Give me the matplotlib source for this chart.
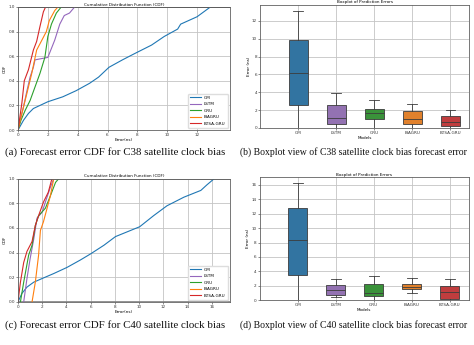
import matplotlib
matplotlib.use("Agg")
import matplotlib.pyplot as plt
import seaborn as sns

# ---------------- data ----------------
models = ["GM", "LSTM", "GRU", "BiAGRU", "BTSA-GRU"]
colors = ["#1f77b4", "#9467bd", "#2ca02c", "#ff7f0e", "#d62728"]

# C38 CDF curves (error ns, cumulative probability)
c38_gm_x = [0, 0.37, 0.7, 1.03, 1.47, 2.0, 3.0, 3.9, 4.8, 5.4, 6.1, 7.0, 7.8, 8.95, 9.8, 10.7, 10.9, 12.0, 12.9]
c38_gm_y = [0, 0.08, 0.135, 0.175, 0.2, 0.23, 0.27, 0.32, 0.38, 0.43, 0.51, 0.57, 0.62, 0.69, 0.76, 0.82, 0.86, 0.92, 1.0]
c38_lstm_x = [0, 0.15, 0.37, 0.6, 0.81, 1.03, 1.14, 2.0, 2.46, 2.8, 3.1, 3.45, 3.8]
c38_lstm_y = [0, 0.08, 0.19, 0.32, 0.43, 0.51, 0.57, 0.59, 0.73, 0.86, 0.93, 0.95, 1.0]
c38_gru_x = [0, 0.2, 0.48, 0.81, 1.14, 1.47, 1.8, 2.0, 2.24, 2.57, 2.9]
c38_gru_y = [0, 0.08, 0.16, 0.24, 0.35, 0.46, 0.59, 0.76, 0.86, 0.95, 1.0]
c38_biagru_x = [0, 0.26, 0.6, 0.92, 1.25, 1.47, 1.9, 2.1, 2.46, 2.68]
c38_biagru_y = [0, 0.135, 0.3, 0.46, 0.65, 0.7, 0.8, 0.89, 0.97, 1.0]
c38_btsa_x = [0, 0.26, 0.42, 0.7, 1.03, 1.25, 1.47, 1.7, 1.85]
c38_btsa_y = [0, 0.22, 0.4, 0.49, 0.65, 0.72, 0.84, 0.96, 1.0]

# C40 CDF curves
c40_gm_x = [0, 0.33, 0.74, 1.3, 2.0, 2.95, 4.05, 5.15, 6.0, 7.1, 8.05, 9.3, 10.05, 11.2, 12.3, 13.7, 15.1, 15.6, 16.2]
c40_gm_y = [0, 0.07, 0.12, 0.16, 0.19, 0.23, 0.28, 0.34, 0.39, 0.46, 0.53, 0.58, 0.61, 0.70, 0.78, 0.85, 0.905, 0.95, 1.0]
c40_lstm_x = [0.47, 0.74, 1.0, 1.3, 1.57, 2.0, 2.26, 2.67, 2.95]
c40_lstm_y = [0, 0.19, 0.35, 0.51, 0.68, 0.73, 0.81, 0.93, 1.0]
c40_gru_x = [0.2, 0.47, 0.88, 1.16, 1.43, 1.7, 2.26, 2.67, 3.1, 3.36]
c40_gru_y = [0, 0.16, 0.38, 0.46, 0.62, 0.70, 0.76, 0.86, 0.97, 1.0]
c40_biagru_x = [1.16, 1.43, 1.7, 1.85, 2.1, 2.4, 2.67, 2.95]
c40_biagru_y = [0, 0.16, 0.38, 0.58, 0.65, 0.76, 0.86, 1.0]
c40_btsa_x = [0, 0.2, 0.47, 0.74, 1.16, 1.43, 1.7, 2.1, 2.5, 2.8]
c40_btsa_y = [0, 0.16, 0.32, 0.41, 0.49, 0.62, 0.7, 0.81, 0.89, 1.0]

# Boxplot summary statistics (ns)
c38_q1 = [2.6, 0.4, 1.0, 0.4, 0.2]
c38_med = [6.2, 1.1, 1.7, 1.0, 0.7]
c38_q3 = [9.9, 2.6, 2.1, 1.9, 1.4]
c38_lo = [0.0, 0.0, 0.0, 0.0, 0.0]
c38_hi = [13.1, 3.9, 3.1, 2.7, 2.0]

c40_q1 = [3.5, 0.75, 0.6, 1.5, 0.2]
c40_med = [8.3, 1.45, 1.0, 1.8, 1.1]
c40_q3 = [12.8, 2.1, 2.2, 2.25, 1.9]
c40_lo = [0.0, 0.4, 0.0, 1.0, 0.0]
c40_hi = [16.25, 3.0, 3.4, 3.1, 3.0]

captions = [
    "(a) Forecast error CDF for C38 satellite clock bias",
    "(b) Boxplot view of C38 satellite clock bias forecast error",
    "(c) Forecast error CDF for C40 satellite clock bias",
    "(d) Boxplot view of C40 satellite clock bias forecast error",
]

# ---------------- style ----------------
plt.rcParams["font.family"] = ["DejaVu Sans"]
SMALL = 3.0
GRID = "#c4c4c4"
SPINE = "#606060"

fig = plt.figure(figsize=(4.74, 3.45), dpi=100)

def style_axes(ax):
    ax.set_facecolor("white")
    ax.grid(True, color=GRID, lw=0.6)
    ax.set_axisbelow(True)
    for s in ax.spines.values():
        s.set_color(SPINE)
        s.set_linewidth(0.6)
    ax.tick_params(labelsize=SMALL, length=1.2, width=0.4, pad=1, colors="#333333")

def cdf_panel(rect, curves, xmax, xticks, extra_lines):
    ax = fig.add_axes(rect)
    style_axes(ax)
    for (xs, ys), name, c in zip(curves, models, colors):
        ax.plot(xs, ys, color=c, lw=0.8, label=name)
    for yv, col in extra_lines:
        ax.axhline(yv, color=col, lw=1.3, zorder=1.5)
    ax.set_xlim(0, xmax)
    ax.set_ylim(0, 1)
    ax.set_xticks(xticks)
    ax.set_yticks([0, 0.2, 0.4, 0.6, 0.8, 1.0])
    ax.set_title("Cumulative Distribution Function (CDF)", fontsize=SMALL, pad=1.0)
    ax.set_xlabel("Error(ns)", fontsize=SMALL, labelpad=0.5)
    ax.set_ylabel("CDF", fontsize=SMALL, labelpad=1)
    ax.legend(loc="lower right", fontsize=SMALL, frameon=True, handlelength=2.5,
              borderpad=0.5, labelspacing=0.6, framealpha=1, edgecolor="#dddddd")
    return ax

def box_panel(rect, q1, med, q3, lo, hi, yticks, ymax):
    ax = fig.add_axes(rect)
    style_axes(ax)
    stats = [dict(med=m, q1=a, q3=b, whislo=l, whishi=h, label=n)
             for m, a, b, l, h, n in zip(med, q1, q3, lo, hi, models)]
    bp = ax.bxp(stats, positions=range(len(models)), widths=0.5, patch_artist=True,
                showfliers=False,
                boxprops=dict(edgecolor="#3c3c3c", linewidth=0.6),
                medianprops=dict(color="#3c3c3c", linewidth=0.6),
                whiskerprops=dict(color="#3c3c3c", linewidth=0.6),
                capprops=dict(color="#3c3c3c", linewidth=0.6))
    for patch, c in zip(bp["boxes"], colors):
        patch.set_facecolor(sns.desaturate(c, 0.75))
    ax.set_xlim(-1.0, 4.5)
    ax.set_ylim(0, ymax)
    ax.set_yticks(yticks)
    ax.set_title("Boxplot of Prediction Errors", fontsize=SMALL, pad=1.0)
    ax.set_xlabel("Models", fontsize=SMALL, labelpad=0.5)
    ax.set_ylabel("Error (ns)", fontsize=SMALL, labelpad=1)
    return ax

cdf_panel([0.038, 0.623, 0.447, 0.357],
          [(c38_gm_x, c38_gm_y), (c38_lstm_x, c38_lstm_y), (c38_gru_x, c38_gru_y),
           (c38_biagru_x, c38_biagru_y), (c38_btsa_x, c38_btsa_y)],
          14.2, [0, 2, 4, 6, 8, 10, 12], [(1.0, "#444444")])
box_panel([0.549, 0.629, 0.441, 0.357], c38_q1, c38_med, c38_q3, c38_lo, c38_hi,
          [0, 2, 4, 6, 8, 10, 12], 13.8)
cdf_panel([0.038, 0.125, 0.447, 0.357],
          [(c40_gm_x, c40_gm_y), (c40_lstm_x, c40_lstm_y), (c40_gru_x, c40_gru_y),
           (c40_biagru_x, c40_biagru_y), (c40_btsa_x, c40_btsa_y)],
          17.5, [0, 2, 4, 6, 8, 10, 12, 14, 16], [(0.0, "#8a8a8a"), (1.0, "#8a8a8a")])
box_panel([0.548, 0.130, 0.441, 0.357], c40_q1, c40_med, c40_q3, c40_lo, c40_hi,
          [0, 2, 4, 6, 8, 10, 12, 14, 16], 17.1)

serif = ["Liberation Serif", "DejaVu Serif"]
left_kw = dict(fontsize=7.8, family=serif, va="center", ha="left", color="#111111")
right_kw = dict(fontsize=7.0, family=serif, va="center", ha="left", color="#111111")
fig.text(5 / 474, 1 - 152 / 345, captions[0], **left_kw)
fig.text(240 / 474, 1 - 152 / 345, captions[1], **right_kw)
fig.text(5 / 474, 1 - 325 / 345, captions[2], **left_kw)
fig.text(240 / 474, 1 - 325 / 345, captions[3], **right_kw)

fig.savefig("out.png", dpi=100)
